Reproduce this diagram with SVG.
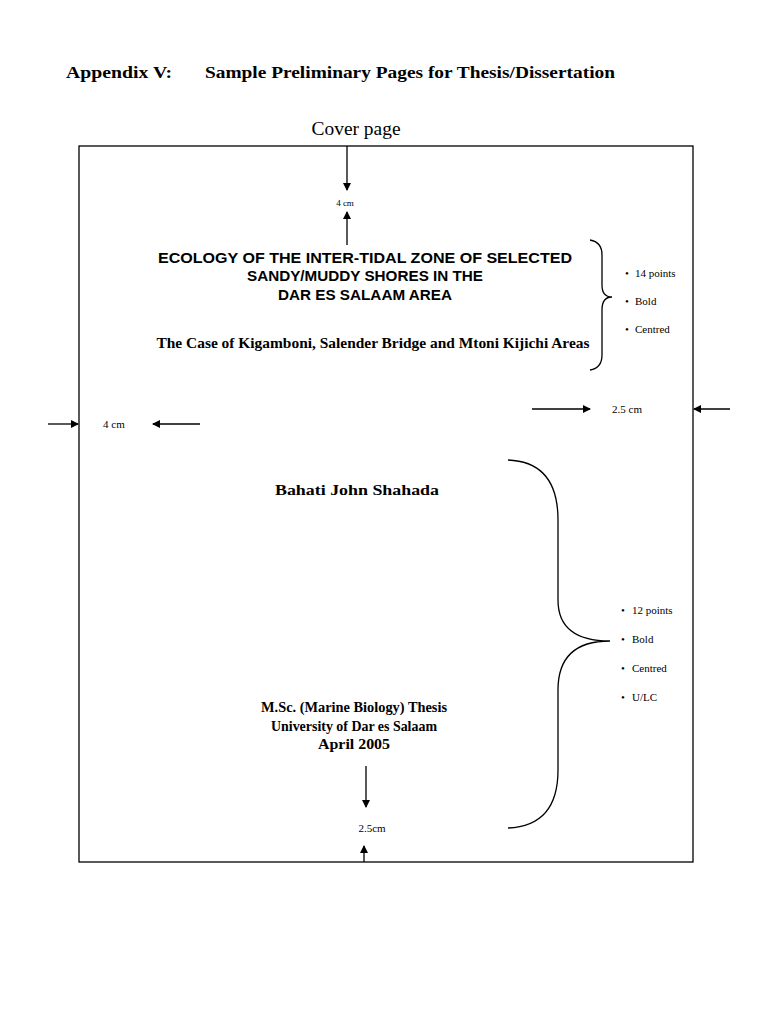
<svg xmlns="http://www.w3.org/2000/svg" width="768" height="1024" viewBox="0 0 768 1024">
<style>
.s{font-family:"Liberation Serif",serif;fill:#000}
.b{font-weight:bold}
.t{font-family:"Liberation Sans",Arial,sans-serif;font-weight:bold;font-size:15px;text-anchor:middle}
.ln{stroke:#000;stroke-width:1.3;fill:none}
</style>
<defs><marker id="a" markerWidth="8" markerHeight="8" refX="7" refY="4" orient="auto" markerUnits="userSpaceOnUse"><path d="M0,0 L8,4 L0,8 Z" fill="#000"/></marker></defs>
<rect width="768" height="1024" fill="#fff"/>
<g id="header"><text class="s b" x="66" y="78" font-size="17" textLength="106" lengthAdjust="spacingAndGlyphs">Appendix V:</text><text class="s b" x="205" y="78" font-size="17" textLength="410" lengthAdjust="spacingAndGlyphs">Sample Preliminary Pages for Thesis/Dissertation</text></g>
<text class="s" x="356" y="135" font-size="18" text-anchor="middle" textLength="89" lengthAdjust="spacingAndGlyphs">Cover page</text>
<rect x="79" y="146" width="614" height="716" class="ln"/>
<g id="connectors">
<line x1="347" y1="146" x2="347" y2="190" class="ln" marker-end="url(#a)"/>
<line x1="347" y1="245" x2="347" y2="212" class="ln" marker-end="url(#a)"/>
<line x1="48" y1="424" x2="78" y2="424" class="ln" marker-end="url(#a)"/>
<line x1="200" y1="424" x2="153" y2="424" class="ln" marker-end="url(#a)"/>
<line x1="532" y1="409" x2="590" y2="409" class="ln" marker-end="url(#a)"/>
<line x1="730" y1="409" x2="694" y2="409" class="ln" marker-end="url(#a)"/>
<line x1="366" y1="766" x2="366" y2="807" class="ln" marker-end="url(#a)"/>
<line x1="364" y1="862" x2="364" y2="846" class="ln" marker-end="url(#a)"/>
<path class="ln" d="M590,240 Q602,242 602,255 L602,285 Q602,297 612,297 Q602,297 602,310 L602,355 Q602,368 590,370"/>
<path class="ln" d="M508,460 Q558,462 558,520 L558,600 Q558,641 610,641 Q558,641 558,690 L558,770 Q558,826 508,828"/>
</g>
<text class="s" x="345" y="206" font-size="9" text-anchor="middle">4 cm</text>
<text class="s" x="103" y="428" font-size="11">4 cm</text>
<text class="s" x="612" y="413" font-size="11">2.5 cm</text>
<text class="s" x="372" y="832" font-size="11" text-anchor="middle">2.5cm</text>
<g id="title"><text class="t" x="365" y="263" textLength="414" lengthAdjust="spacingAndGlyphs">ECOLOGY OF THE INTER-TIDAL ZONE OF SELECTED</text><text class="t" x="365" y="281" textLength="236" lengthAdjust="spacingAndGlyphs">SANDY/MUDDY SHORES IN THE</text><text class="t" x="365" y="300" textLength="174" lengthAdjust="spacingAndGlyphs">DAR ES SALAAM AREA</text>
<text class="s b" x="373" y="348" font-size="14" text-anchor="middle" textLength="433" lengthAdjust="spacingAndGlyphs">The Case of Kigamboni, Salender Bridge and Mtoni Kijichi Areas</text></g>
<g id="bul1" class="s" font-size="11"><text x="625" y="277">•</text><text x="635" y="277">14 points</text><text x="625" y="305">•</text><text x="635" y="305">Bold</text><text x="625" y="333">•</text><text x="635" y="333">Centred</text></g>
<text class="s b" x="357" y="495" font-size="14" text-anchor="middle" textLength="164" lengthAdjust="spacingAndGlyphs">Bahati John Shahada</text>
<g id="bul2" class="s" font-size="11"><text x="621" y="614">•</text><text x="632" y="614">12 points</text><text x="621" y="643">•</text><text x="632" y="643">Bold</text><text x="621" y="672">•</text><text x="632" y="672">Centred</text><text x="621" y="701">•</text><text x="632" y="701">U/LC</text></g>
<g id="degree" class="s b" font-size="14" text-anchor="middle"><text x="354" y="712" textLength="186" lengthAdjust="spacingAndGlyphs">M.Sc. (Marine Biology) Thesis</text><text x="354" y="731" textLength="166" lengthAdjust="spacingAndGlyphs">University of Dar es Salaam</text><text x="354" y="749" textLength="72" lengthAdjust="spacingAndGlyphs">April 2005</text></g>
</svg>
